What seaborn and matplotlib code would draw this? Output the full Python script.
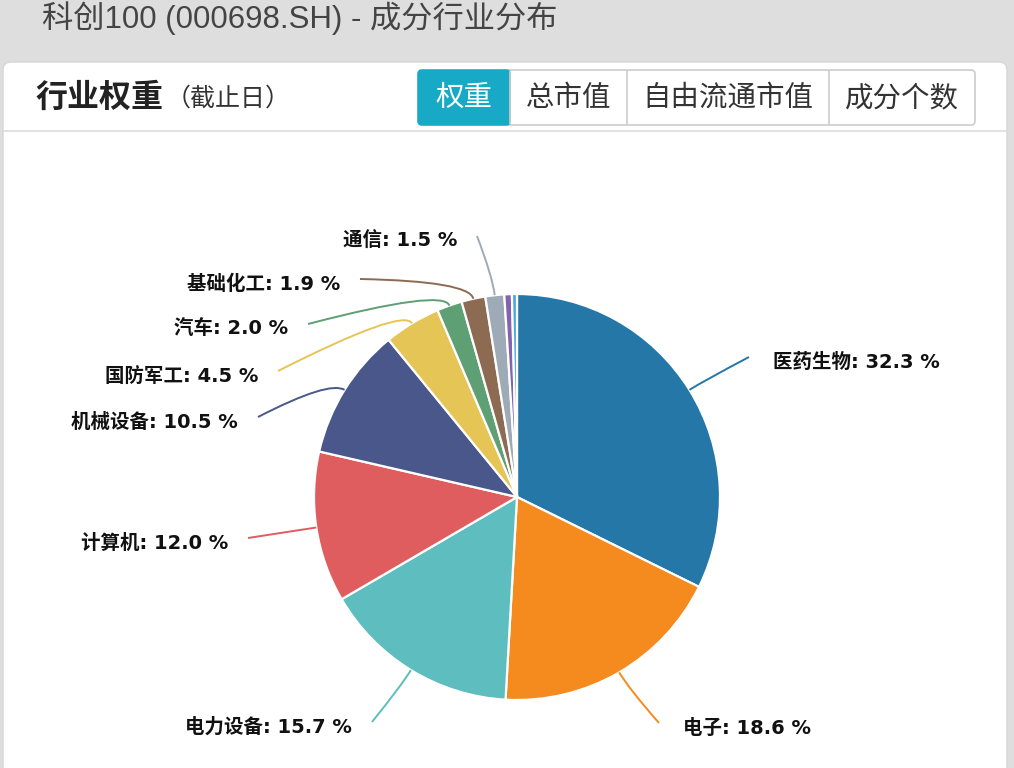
import numpy as np
import matplotlib
matplotlib.use("Agg")
import matplotlib.pyplot as plt
from matplotlib.patches import FancyBboxPatch, Rectangle, PathPatch
from matplotlib.path import Path
import seaborn as sns

# data
industries = ["医药生物", "电子", "电力设备", "计算机", "机械设备",
              "国防军工", "汽车", "基础化工", "通信", "其他1", "其他2"]
weights = [32.3, 18.6, 15.7, 12.0, 10.5, 4.5, 2.0, 1.9, 1.5, 0.6, 0.4]
show_label = [True] * 9 + [False, False]
colors = ["#2477a6", "#f58a1f", "#5ebdbe", "#e05d5f", "#4a578b",
          "#e5c555", "#5e9f73", "#8d6b53", "#9eaab5", "#8462ae", "#4ca9df"]
tabs = ["权重", "总市值", "自由流通市值", "成分个数"]

# layout (pixel coords): label text anchor
label_pos = [(773, 362), (683, 728), (352, 727), (228, 543), (238, 422),
             (258, 376), (288, 329), (340, 284), (457, 241)]

sns.set_theme(style="white")
plt.rcParams["font.family"] = ["Liberation Sans", "Noto Sans CJK SC"]
label_font = ["DejaVu Sans", "Noto Sans CJK SC"]

W, H = 1014, 768
fig = plt.figure(figsize=(W / 100, H / 100), dpi=100)
fig.patch.set_facecolor("#dedede")
ax = fig.add_axes([0, 0, 1, 1])
ax.set_xlim(0, W)
ax.set_ylim(0, H)
ax.axis("off")


def Y(py):
    return H - py


# page title
ax.text(42, Y(18), "科创100 (000698.SH) - 成分行业分布", fontsize=22.5,
        color="#444444", va="center", ha="left")

# white card
card = FancyBboxPatch((3, Y(800)), 1004, 800 - 62, boxstyle="round,pad=0,rounding_size=8",
                      facecolor="white", edgecolor="#d6d6d6", linewidth=1)
ax.add_patch(card)
ax.plot([3, 1007], [Y(131), Y(131)], color="#dddddd", lw=1.2)

ax.text(35, Y(98), "行业权重", fontsize=23, fontweight="bold", color="#222222",
        va="center", ha="left", family=["Noto Sans CJK SC"])
ax.text(166, Y(99), "（截止日）", fontsize=18, color="#333333", va="center", ha="left",
        family=["Noto Sans CJK SC"])

# tabs
tab_edges = [418, 510, 627, 829, 975]
outer = FancyBboxPatch((418, Y(125)), 975 - 418, 55, boxstyle="round,pad=0,rounding_size=4",
                       facecolor="white", edgecolor="#cccccc", linewidth=1.2)
ax.add_patch(outer)
active = FancyBboxPatch((418, Y(125)), 510 - 418, 55, boxstyle="round,pad=0,rounding_size=4",
                        facecolor="#17a9c6", edgecolor="#17a9c6", linewidth=1)
ax.add_patch(active)
ax.add_patch(Rectangle((495, Y(125)), 15, 55, facecolor="#17a9c6", edgecolor="none"))
for i, name in enumerate(tabs):
    x0, x1 = tab_edges[i], tab_edges[i + 1]
    if i > 0:
        ax.plot([x0, x0], [Y(71), Y(124)], color="#cccccc", lw=1.2)
    ax.text((x0 + x1) / 2, Y(98), name, fontsize=20.5,
            color="white" if i == 0 else "#333333", va="center", ha="center",
            family=["Noto Sans CJK SC"])

# pie
cx, cy, r = 517, 497, 203
wedges, _ = ax.pie(weights, colors=colors, startangle=90, counterclock=False,
                   center=(cx, Y(cy)), radius=r, frame=True,
                   wedgeprops=dict(edgecolor="white", linewidth=1.6))
ax.set_xlim(0, W)
ax.set_ylim(0, H)
ax.axis("off")

for i, (w, name, val, show, col) in enumerate(zip(wedges, industries, weights, show_label, colors)):
    if not show:
        continue
    lx, ly = label_pos[i]
    theta = np.deg2rad((w.theta1 + w.theta2) / 2)
    p0 = (cx + r * np.cos(theta), Y(cy) + r * np.sin(theta))
    p1 = (cx + (r + 18) * np.cos(theta), Y(cy) + (r + 18) * np.sin(theta))
    right = np.cos(theta) > 0
    p2 = (lx - 24, Y(ly) + 5) if right else (lx + 20, Y(ly) + 5)
    path = Path([p0, p1, p2], [Path.MOVETO, Path.CURVE3, Path.CURVE3])
    ax.add_patch(PathPatch(path, facecolor="none", edgecolor=col, lw=1.4))
    ax.text(lx, Y(ly), f"{name}: {val:.1f} %", fontsize=14, fontweight="bold",
            color="#111111", va="center", ha="left" if right else "right",
            family=label_font)

fig.savefig("out.png", dpi=100, facecolor=fig.get_facecolor())
